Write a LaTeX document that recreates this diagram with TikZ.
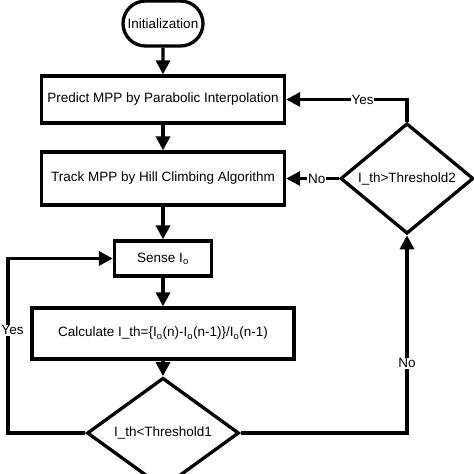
\documentclass[tikz,border=0pt]{standalone}
\usepackage{fontspec}
\setmainfont{Liberation Sans}
\usetikzlibrary{shapes.geometric,shapes.misc,arrows.meta}
\begin{document}
\begin{tikzpicture}[x=1pt,y=-1pt, line width=3.3pt,
  txt/.style={font=\fontsize{13.5}{15}\selectfont},
  box/.style={draw, rectangle, inner sep=0pt, txt},
  dec/.style={draw, diamond, inner sep=0pt, txt},
  term/.style={draw, rounded rectangle, inner sep=0pt, txt},
  arr/.style={-{Triangle[length=14pt,width=14pt]}},
  lbl/.style={fill=white, inner sep=0.8pt, txt}]
\useasboundingbox (0,0) rectangle (474,474);
\node[term, minimum width=80pt, minimum height=45pt] (init) at (163,23.5) {Initialization};
\node[box, minimum width=243pt, minimum height=47pt] (pred) at (163,99.5) {Predict MPP by Parabolic Interpolation};
\node[box, minimum width=243pt, minimum height=53pt] (track) at (163,178.5) {Track MPP by Hill Climbing Algorithm};
\node[box, minimum width=97pt, minimum height=35pt] (sense) at (163,258.5) {Sense I\textsubscript{o}};
\node[box, minimum width=262pt, minimum height=51pt] (calc) at (163,333.5) {Calculate I\_th=\{I\textsubscript{o}(n)-I\textsubscript{o}(n-1)\}/I\textsubscript{o}(n-1)};
\node[dec, minimum width=152pt, minimum height=78pt] (d1) at (163,433) {I\_th<Threshold1};
\node[dec, minimum width=133pt, minimum height=85pt] (d2) at (407,178.5) {I\_th>Threshold2};
\coordinate (yc) at (8,433);
\coordinate (nc) at (407,433);
\draw[arr] (init) -- (pred);
\draw[arr] (pred) -- (track);
\draw[arr] (track) -- (sense);
\draw[arr] (sense) -- (calc);
\draw[arr] (calc) -- (d1);
\draw[arr] (d1.west) -- (yc) |- node[lbl, pos=0.295, xshift=4.5pt]{Yes} (sense.west);
\draw[arr] (d1.east) -- (nc) -- node[lbl, pos=0.354]{No} (d2.south);
\draw[arr] (d2.west) -- node[lbl, pos=0.42]{No} (track.east);
\draw[arr] (d2.north) |- node[lbl, pos=0.684]{Yes} (pred.east);
\end{tikzpicture}
\end{document}
